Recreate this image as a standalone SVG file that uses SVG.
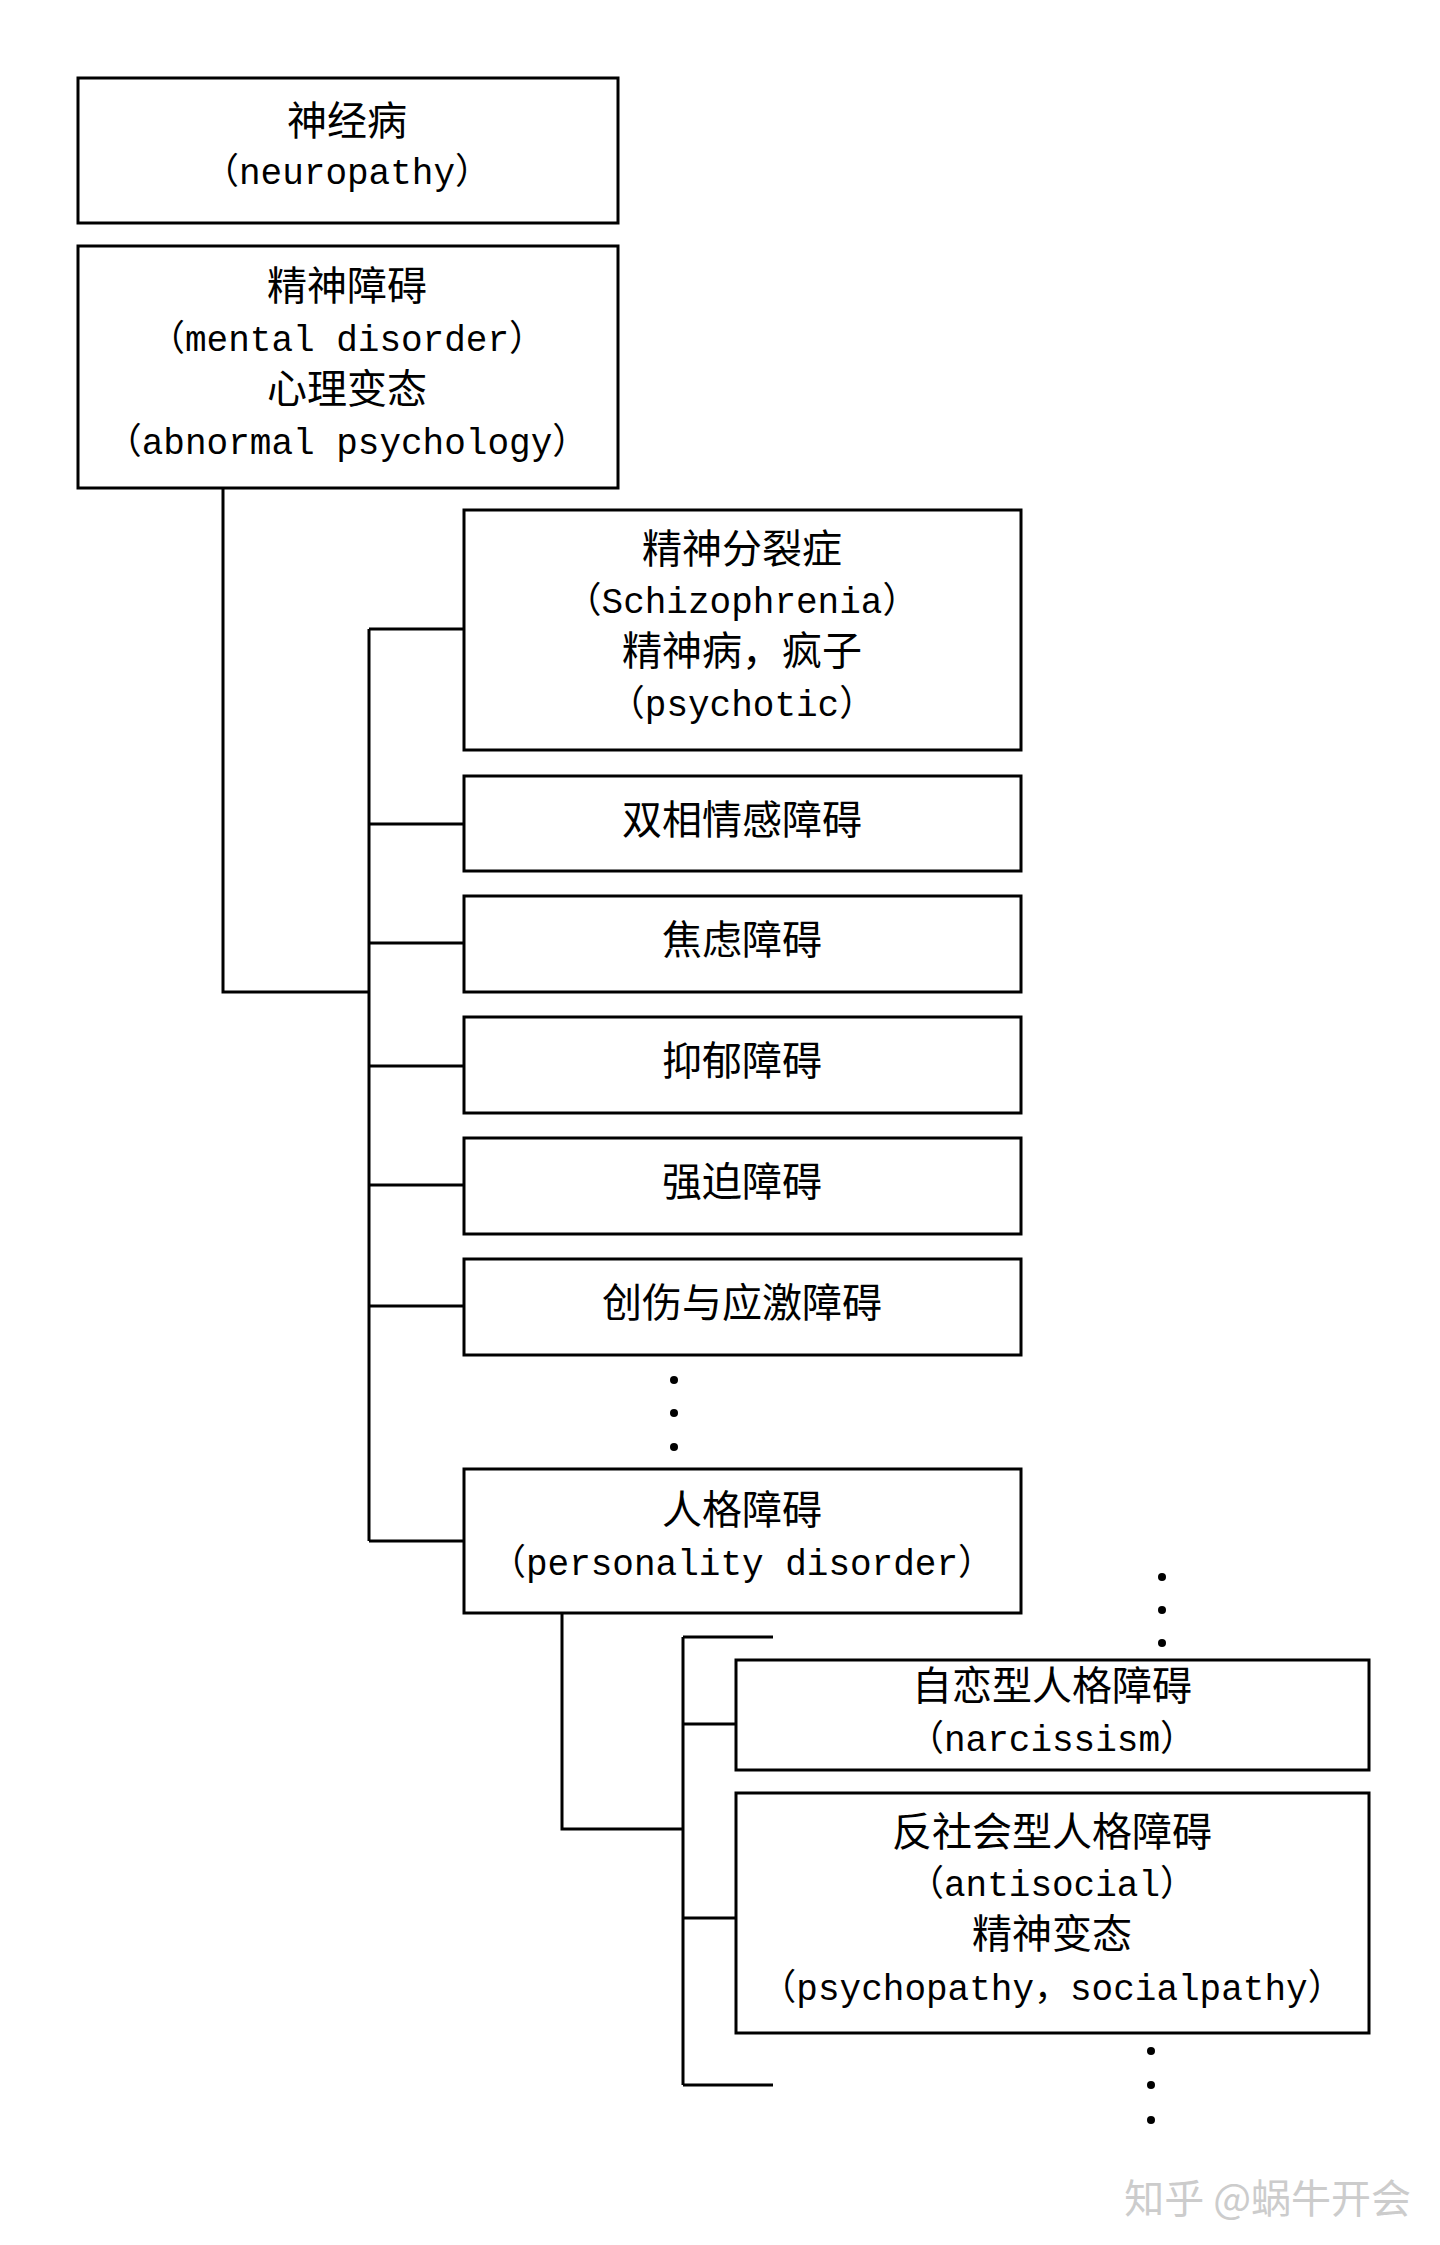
<svg xmlns="http://www.w3.org/2000/svg" width="1440" height="2245" viewBox="0 0 1440 2245">
<style>
.b{fill:#fff;stroke:#000;stroke-width:3}
.t{font-family:"Liberation Mono","Noto Sans CJK SC",monospace;font-size:40px;fill:#000;text-anchor:middle;dominant-baseline:central}
.l{font-size:36px}
.c{fill:none;stroke:#000;stroke-width:3}
</style>
<rect width="1440" height="2245" fill="#fff"/>
<g id="n1"><rect class="b" x="78" y="78" width="540" height="145"/><text class="t" x="347" y="124">神经病</text><text class="t l" x="347" y="174">（neuropathy）</text></g>
<g id="n2"><rect class="b" x="78" y="246" width="540" height="242"/><text class="t" x="347" y="289">精神障碍</text><text class="t l" x="347" y="341">（mental disorder）</text><text class="t" x="347" y="392">心理变态</text><text class="t l" x="347" y="444">（abnormal psychology）</text></g>
<g id="n3"><rect class="b" x="464" y="510" width="557" height="240"/><text class="t" x="742" y="552">精神分裂症</text><text class="t l" x="742" y="603">（Schizophrenia）</text><text class="t" x="742" y="654">精神病，疯子</text><text class="t l" x="742" y="706">（psychotic）</text></g>
<g id="n4"><rect class="b" x="464" y="776" width="557" height="95"/><text class="t" x="742" y="823">双相情感障碍</text></g>
<g id="n5"><rect class="b" x="464" y="896" width="557" height="96"/><text class="t" x="742" y="943">焦虑障碍</text></g>
<g id="n6"><rect class="b" x="464" y="1017" width="557" height="96"/><text class="t" x="742" y="1064">抑郁障碍</text></g>
<g id="n7"><rect class="b" x="464" y="1138" width="557" height="96"/><text class="t" x="742" y="1185">强迫障碍</text></g>
<g id="n8"><rect class="b" x="464" y="1259" width="557" height="96"/><text class="t" x="742" y="1306">创伤与应激障碍</text></g>
<g id="n9"><rect class="b" x="464" y="1469" width="557" height="144"/><text class="t" x="742" y="1513">人格障碍</text><text class="t l" x="742" y="1565">（personality disorder）</text></g>
<g id="n10"><rect class="b" x="736" y="1660" width="633" height="110"/><text class="t" x="1052" y="1689">自恋型人格障碍</text><text class="t l" x="1052" y="1741">（narcissism）</text></g>
<g id="n11"><rect class="b" x="736" y="1793" width="633" height="240"/><text class="t" x="1052" y="1835">反社会型人格障碍</text><text class="t l" x="1052" y="1886">（antisocial）</text><text class="t" x="1052" y="1937">精神变态</text><text class="t l" x="1052" y="1990">（psychopathy，socialpathy）</text></g>
<g id="connectors">
<path class="c" d="M223 488V992H369M369 629V1541M369 629H464M369 824H464M369 943H464M369 1066H464M369 1185H464M369 1306H464M369 1541H464"/>
<path class="c" d="M562 1613V1829H683M683 1637V2085M683 1637H773M683 1724H736M683 1918H736M683 2085H773"/>
</g>
<g id="dots" fill="#000">
<circle cx="674" cy="1380" r="4"/><circle cx="674" cy="1413" r="4"/><circle cx="674" cy="1447" r="4"/>
<circle cx="1162" cy="1577" r="4"/><circle cx="1162" cy="1610" r="4"/><circle cx="1162" cy="1643" r="4"/>
<circle cx="1151" cy="2051" r="4"/><circle cx="1151" cy="2085" r="4"/><circle cx="1151" cy="2120" r="4"/>
</g>
<text x="1411" y="2196" style="font-family:'Noto Sans CJK SC',sans-serif;font-size:40px;fill:#ccc;text-anchor:end;dominant-baseline:central">知乎 @蜗牛开会</text>
</svg>
